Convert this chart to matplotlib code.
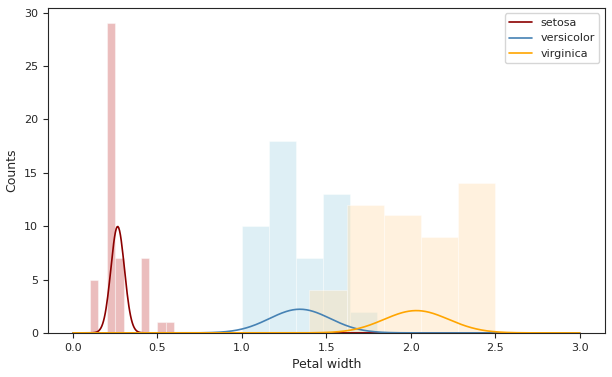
import numpy as np
import matplotlib
matplotlib.use("Agg")
import matplotlib.pyplot as plt
import seaborn as sns

sns.set_style("ticks")
plt.rcParams["font.family"] = ["DejaVu Sans"]

# histogram bin edges and counts per species
setosa_edges = [0.10, 0.15, 0.20, 0.25, 0.30, 0.35, 0.40, 0.45, 0.50, 0.55, 0.60]
setosa_counts = [5, 0, 29, 7, 0, 0, 7, 0, 1, 1]
versicolor_edges = [1.00, 1.16, 1.32, 1.48, 1.64, 1.80]
versicolor_counts = [10, 18, 7, 13, 2]
virginica_edges = [1.40, 1.62, 1.84, 2.06, 2.28, 2.50]
virginica_counts = [4, 12, 11, 9, 14]

# fitted normal curves: (mean, sigma)
species = ["setosa", "versicolor", "virginica"]
curve_mean = [0.264, 1.343, 2.033]
curve_sigma = [0.040, 0.180, 0.191]
line_colors = ["darkred", "steelblue", "orange"]
bar_colors = ["indianred", "lightblue", "navajowhite"]

fig = plt.figure(figsize=(6.12, 3.77), dpi=100)
ax = fig.add_axes([0.078, 0.117, 0.9105, 0.862])

hists = [(setosa_edges, setosa_counts),
         (versicolor_edges, versicolor_counts),
         (virginica_edges, virginica_counts)]
for (edges, counts), col in zip(hists, bar_colors):
    edges = np.array(edges)
    ax.hist(edges[:-1], bins=edges, weights=counts, color=col, alpha=0.4,
            edgecolor="white", linewidth=0.8)

x = np.linspace(0, 3, 600)
for name, mu, sd, col in zip(species, curve_mean, curve_sigma, line_colors):
    y = np.exp(-0.5 * ((x - mu) / sd) ** 2) / (sd * np.sqrt(2 * np.pi))
    ax.plot(x, y, color=col, linewidth=1.2, label=name)

ax.set_xticks(np.arange(0, 3.01, 0.5))
ax.set_yticks(np.arange(0, 31, 5))
ax.set_xlim(-0.15, 3.15)
ax.set_ylim(0, 30.45)
ax.tick_params(labelsize=8, length=3.5, width=0.8)
ax.set_xlabel("Petal width", fontsize=9)
ax.set_ylabel("Counts", fontsize=9)
ax.legend(loc="upper right", fontsize=8)

fig.savefig("out.png", dpi=100)
